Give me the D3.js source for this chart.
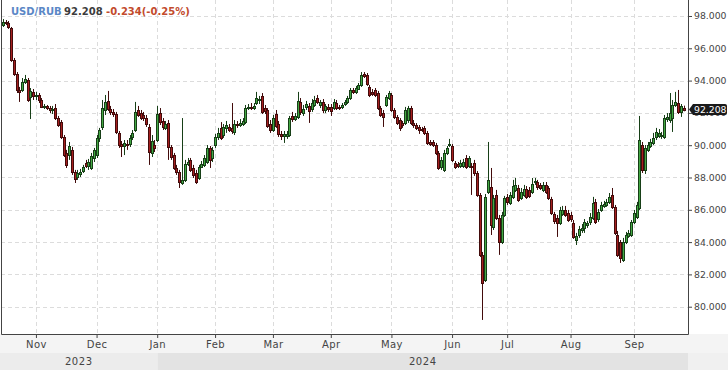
<!DOCTYPE html>
<html>
<head>
<meta charset="utf-8">
<script src="https://cdn.jsdelivr.net/npm/d3@7"></script>
<style>
  body { margin: 0; background: #fff; }
  text { font-family: "DejaVu Sans", Verdana, sans-serif; }
</style>
</head>
<body>
<script>
// USD/RUB daily candles, mid Oct 2023 to late Sep 2024
const pair = "USD/RUB";
const lastPrice = 92.208;
const change = -0.234;
const changePct = -0.25;

const months = ["Oct", "Nov", "Dec", "Jan", "Feb", "Mar", "Apr", "May", "Jun", "Jul", "Aug", "Sep"];
const monthCounts = [12, 22, 22, 21, 21, 21, 22, 22, 20, 23, 23, 19];
const years = ["2023", "2024"];
const yearFirstMonth = [0, 3];
const yTicks = [80, 82, 84, 86, 88, 90, 92, 94, 96, 98];

const opens = [
  97.44, 97.63, 97.57, 97.26, 95.28, 94.41, 93.42, 93.42, 93.91, 94.04, 92.98, 93.30,
  93.05, 93.11, 92.80, 92.37, 92.43, 92.30, 92.18, 92.30, 91.68, 91.43, 90.50, 89.52, 89.39, 89.71, 88.34, 88.03, 88.22, 88.40, 88.90, 88.71, 88.59, 89.21,
  89.39, 90.45, 91.13, 92.18, 92.74, 92.24, 92.06, 91.93, 90.76, 90.07, 89.95, 90.07, 90.07, 90.50, 90.94, 92.18, 91.99, 91.87, 91.68, 91.13, 89.52, 90.01,
  90.32, 91.99, 91.50, 91.07, 91.37, 89.89, 89.39, 88.59, 88.34, 87.66, 87.85, 88.84, 89.09, 88.59, 88.28, 87.97, 88.65, 88.78, 88.96, 89.83, 89.21,
  90.01, 90.50, 91.07, 90.63, 91.07, 91.13, 91.07, 90.82, 91.31, 91.25, 91.31, 91.43, 92.30, 92.37, 92.30, 92.61, 92.80, 93.05, 92.30, 92.18, 91.31,
  90.94, 91.93, 91.31, 90.70, 90.57, 90.57, 90.63, 91.81, 91.62, 91.75, 92.68, 91.99, 92.37, 92.43, 92.24, 92.49, 92.92, 92.49, 92.68, 92.18, 92.37,
  92.37, 92.30, 92.61, 92.37, 92.37, 92.55, 92.68, 92.92, 93.42, 93.30, 93.48, 93.73, 94.41, 94.35, 93.61, 93.30, 93.42, 93.23, 92.30, 91.99, 92.49, 92.92,
  93.11, 92.18, 91.75, 91.56, 91.37, 91.37, 91.56, 92.30, 91.37, 91.25, 91.13, 91.00, 91.07, 90.76, 90.20, 90.20, 90.01, 89.52, 88.65, 88.47, 89.52, 90.01,
  89.95, 88.90, 88.84, 88.71, 88.71, 89.21, 88.71, 88.71, 88.90, 88.28, 86.92, 83.21, 81.66, 87.10, 87.41, 84.94, 86.92, 85.49, 84.01, 85.68,
  86.80, 86.42, 86.80, 87.23, 87.35, 86.73, 86.92, 87.29, 87.23, 87.10, 87.72, 87.72, 87.54, 87.23, 87.54, 87.35, 86.67, 85.74, 85.49, 85.18, 85.74, 85.99, 85.80,
  85.68, 85.18, 84.13, 84.44, 84.75, 84.88, 85.06, 85.25, 85.49, 86.49, 85.43, 85.99, 86.24, 86.30, 86.49, 86.92, 86.18, 84.44, 84.01, 82.90, 84.01, 84.38, 84.44,
  85.25, 85.56, 86.11, 90.01, 88.47, 89.71, 89.95, 90.14, 90.51, 90.57, 90.57, 90.51, 91.62, 91.56, 91.68, 92.49, 92.61, 92.06, 92.32
];
const highs = [
  97.81, 97.75, 97.69, 97.32, 95.40, 94.53, 93.61, 94.16, 94.35, 94.16, 93.54, 93.48,
  93.30, 93.23, 92.92, 92.55, 92.49, 92.43, 92.43, 92.55, 91.81, 91.56, 90.63, 89.71, 90.20, 89.89, 88.47, 88.47, 88.53, 88.78, 89.09, 89.15, 89.52, 89.83,
  90.63, 91.07, 92.80, 93.11, 93.36, 92.43, 92.24, 92.06, 90.88, 90.26, 90.32, 90.32, 90.63, 90.94, 92.68, 92.43, 92.18, 92.06, 91.87, 91.31, 90.63, 90.32,
  92.43, 92.30, 91.68, 91.50, 91.56, 90.01, 89.52, 88.78, 88.47, 91.68, 89.09, 89.21, 89.21, 88.78, 88.47, 88.78, 89.02, 89.39, 90.01, 89.95, 89.89,
  90.70, 91.07, 91.43, 91.31, 91.50, 91.31, 92.61, 91.56, 91.50, 91.62, 91.68, 92.49, 92.55, 92.61, 92.61, 93.30, 93.05, 93.23, 92.49, 92.30, 91.56,
  91.87, 92.18, 91.50, 90.88, 90.88, 90.88, 91.81, 92.06, 91.99, 93.30, 92.92, 92.49, 92.74, 92.61, 92.86, 93.05, 93.11, 92.80, 92.86, 92.55, 92.55,
  92.55, 92.86, 92.80, 92.49, 92.61, 92.80, 93.05, 93.54, 93.54, 93.67, 93.85, 94.53, 94.53, 94.47, 93.73, 93.48, 93.54, 93.36, 92.43, 92.18, 93.11, 93.36,
  93.23, 92.30, 91.87, 91.68, 91.50, 92.37, 92.43, 92.43, 91.56, 91.37, 91.25, 91.13, 91.19, 90.88, 90.32, 90.32, 90.14, 89.64, 89.27, 89.71, 89.95, 90.39,
  90.07, 89.02, 88.96, 89.09, 89.15, 89.39, 89.33, 88.90, 89.09, 88.40, 87.04, 83.39, 86.98, 90.20, 88.59, 86.92, 87.23, 85.68, 85.87, 86.86,
  86.98, 87.10, 87.85, 87.97, 87.54, 87.35, 87.54, 87.47, 87.41, 87.97, 87.97, 87.85, 87.66, 87.72, 87.72, 87.47, 86.80, 85.87, 85.68, 86.18, 86.24, 86.24, 85.99,
  85.87, 85.37, 84.57, 85.00, 85.12, 85.43, 85.31, 85.80, 86.80, 86.67, 86.05, 86.49, 86.55, 86.67, 87.04, 87.35, 86.30, 84.69, 84.13, 84.26, 84.63, 84.75, 85.37,
  85.99, 86.49, 91.81, 90.20, 90.01, 90.20, 90.39, 90.76, 91.07, 91.00, 90.82, 91.87, 91.99, 93.23, 92.80, 93.30, 93.42, 92.55, 92.45
];
const lows = [
  97.32, 97.44, 97.20, 95.16, 94.29, 93.23, 92.68, 93.30, 93.79, 92.68, 91.62, 92.80,
  92.80, 92.61, 92.30, 92.24, 92.18, 91.99, 91.93, 91.56, 91.13, 90.38, 89.27, 88.59, 89.09, 88.16, 87.66, 87.85, 88.03, 88.28, 88.59, 88.47, 88.47, 88.96,
  89.21, 90.20, 90.94, 91.87, 92.12, 91.87, 91.75, 90.69, 89.83, 89.27, 89.39, 89.71, 89.89, 90.32, 90.82, 91.75, 91.56, 91.50, 91.13, 88.78, 89.27, 89.58,
  90.20, 91.25, 90.94, 90.94, 89.09, 89.09, 88.47, 88.16, 87.35, 87.54, 87.72, 88.71, 88.34, 87.97, 87.60, 87.85, 88.59, 88.65, 88.84, 88.59, 88.96,
  89.83, 90.32, 90.32, 90.45, 90.76, 90.82, 90.70, 90.63, 91.07, 91.13, 91.19, 91.31, 92.18, 92.18, 92.18, 92.49, 92.55, 91.93, 91.93, 91.07, 90.76,
  90.82, 91.07, 90.51, 90.32, 90.14, 90.39, 90.51, 91.44, 91.50, 91.62, 91.87, 91.81, 92.18, 91.38, 92.06, 92.37, 92.55, 92.30, 91.99, 91.99, 92.06,
  91.81, 92.18, 92.18, 92.18, 92.24, 92.43, 92.55, 92.80, 93.17, 93.17, 93.42, 93.61, 94.16, 93.67, 92.98, 93.05, 92.98, 92.18, 91.75, 91.13, 92.37, 92.80,
  92.06, 91.62, 91.25, 90.88, 91.07, 91.25, 91.38, 91.25, 91.07, 90.94, 90.70, 90.82, 90.63, 90.01, 89.95, 89.89, 89.39, 88.47, 88.47, 88.34, 89.39, 89.89,
  88.96, 88.53, 88.59, 88.59, 88.59, 88.53, 88.59, 86.92, 88.10, 86.80, 83.08, 79.18, 81.53, 86.98, 84.44, 84.75, 85.37, 83.21, 83.88, 85.56,
  86.30, 86.30, 86.67, 87.10, 86.49, 86.61, 86.80, 86.67, 86.73, 86.98, 87.54, 87.23, 87.23, 87.10, 86.98, 86.61, 85.68, 85.12, 84.32, 85.06, 85.62, 85.56, 85.25,
  85.25, 84.20, 83.82, 84.26, 84.57, 84.57, 84.88, 85.06, 85.37, 85.12, 85.25, 85.87, 86.12, 86.18, 86.36, 86.05, 84.44, 83.08, 82.71, 82.77, 83.88, 84.26, 84.32,
  85.12, 85.43, 85.99, 88.28, 88.22, 89.58, 89.83, 90.01, 90.32, 90.45, 90.39, 90.39, 91.44, 91.38, 90.82, 92.37, 91.93, 91.75, 92.10
];
const closes = [
  97.63, 97.57, 97.32, 95.28, 94.41, 93.42, 93.30, 93.91, 94.10, 92.80, 93.36, 93.05,
  93.11, 92.80, 92.37, 92.43, 92.30, 92.18, 92.24, 91.68, 91.25, 90.50, 89.39, 88.78, 89.95, 88.34, 87.91, 88.28, 88.34, 88.65, 88.71, 88.96, 89.33, 89.71,
  90.45, 90.94, 92.30, 92.68, 92.24, 92.06, 91.93, 90.82, 90.01, 89.95, 90.14, 90.01, 90.45, 90.76, 92.06, 91.87, 91.68, 91.68, 91.31, 89.58, 90.26, 89.83,
  91.93, 91.43, 91.13, 91.31, 89.89, 89.27, 88.59, 88.34, 87.72, 87.85, 88.84, 88.96, 88.47, 88.16, 87.72, 88.65, 88.84, 89.21, 89.83, 89.09, 89.71,
  90.50, 90.76, 90.45, 91.13, 91.25, 90.94, 90.88, 91.31, 91.25, 91.37, 91.50, 92.30, 92.37, 92.30, 92.43, 92.92, 92.86, 92.06, 92.12, 91.19, 90.94,
  91.68, 91.19, 90.70, 90.57, 90.70, 90.70, 91.68, 91.62, 91.81, 92.74, 92.06, 92.24, 92.55, 92.12, 92.61, 92.80, 92.68, 92.68, 92.18, 92.43, 92.24,
  92.12, 92.68, 92.30, 92.30, 92.49, 92.68, 92.92, 93.42, 93.30, 93.54, 93.73, 94.35, 94.29, 93.79, 93.11, 93.17, 93.11, 92.30, 91.87, 91.75, 92.98, 93.23,
  92.18, 91.75, 91.37, 91.07, 91.25, 92.18, 92.30, 91.37, 91.25, 91.07, 90.94, 90.94, 90.76, 90.14, 90.07, 90.01, 89.52, 88.59, 89.09, 89.52, 89.83, 90.07,
  89.09, 88.65, 88.71, 88.90, 88.96, 88.65, 89.21, 88.65, 88.28, 86.92, 83.21, 81.47, 86.80, 87.85, 85.06, 86.73, 85.49, 84.01, 85.68, 86.73,
  86.49, 86.92, 87.47, 87.54, 86.61, 87.10, 87.29, 86.80, 86.86, 87.60, 87.78, 87.41, 87.35, 87.54, 87.10, 86.73, 85.80, 85.31, 85.18, 85.99, 85.99, 85.68, 85.37,
  85.43, 84.32, 84.38, 84.81, 84.88, 85.25, 85.18, 85.56, 86.42, 85.25, 85.87, 86.30, 86.36, 86.49, 86.80, 86.18, 84.57, 83.21, 83.02, 84.01, 84.44, 84.57, 85.25,
  85.80, 86.30, 90.32, 88.47, 89.83, 90.01, 90.20, 90.45, 90.82, 90.76, 90.63, 91.68, 91.75, 91.99, 92.49, 92.68, 92.06, 92.442, 92.208
];

// Standard SVG setup
const w = 728;
const h = 370;
const plotRight = 688;
const plotBottom = 334;
const yearRowTop = 353;

const svg = d3.select("body")
  .append("svg")
  .attr("width", w)
  .attr("height", h)
  .style("display", "block");

// candle table + first candle index of every month
const candles = opens.map((o, i) => ({ i, o, h: highs[i], l: lows[i], c: closes[i] }));
const monthStarts = d3.cumsum([0, ...monthCounts.slice(0, -1)]);

const x = d3.scaleBand()
  .domain(d3.range(candles.length))
  .range([2, 685.4]);
const y = d3.scaleLinear()
  .domain([78.31, 98.99])
  .range([plotBottom, 0]);
const cx = (i) => x(i) + x.bandwidth() / 2;

// bottom background rows
svg.append("rect")
  .attr("x", 0).attr("y", plotBottom)
  .attr("width", w).attr("height", h - plotBottom)
  .attr("fill", "#f4f4f4");
svg.append("rect")
  .attr("x", 0).attr("y", yearRowTop)
  .attr("width", w).attr("height", h - yearRowTop)
  .attr("fill", "#f0f0f0");

const yearEdges = yearFirstMonth.map((m, k) => {
  const x0 = k === 0 ? 0 : cx(monthStarts[m]);
  const x1 = k === yearFirstMonth.length - 1 ? plotRight : cx(monthStarts[yearFirstMonth[k + 1]]);
  return { label: years[k], x0, x1 };
});
svg.append("g")
  .selectAll("rect")
  .data(yearEdges)
  .join("rect")
  .attr("x", (d) => d.x0)
  .attr("y", yearRowTop)
  .attr("width", (d) => d.x1 - d.x0)
  .attr("height", h - yearRowTop)
  .attr("fill", (d, k) => (k === 0 ? "#ececec" : "#e3e3e3"));
svg.append("g")
  .selectAll("text")
  .data(yearEdges)
  .join("text")
  .attr("x", (d) => (d.x0 + d.x1) / 2)
  .attr("y", 365)
  .attr("text-anchor", "middle")
  .attr("font-size", 10)
  .attr("letter-spacing", 0.6)
  .attr("fill", "#444")
  .text((d) => d.label);

// grid
const grid = svg.append("g")
  .attr("stroke", "#dcdcdc")
  .attr("stroke-dasharray", "4,3");
grid.selectAll("line.h")
  .data(yTicks)
  .join("line")
  .attr("class", "h")
  .attr("x1", 1).attr("x2", plotRight)
  .attr("y1", (d) => Math.round(y(d)) + 0.5)
  .attr("y2", (d) => Math.round(y(d)) + 0.5);
grid.selectAll("line.v")
  .data(monthStarts.slice(1))
  .join("line")
  .attr("class", "v")
  .attr("x1", (d) => Math.floor(cx(d)) + 0.5)
  .attr("x2", (d) => Math.floor(cx(d)) + 0.5)
  .attr("y1", 0).attr("y2", plotBottom);

// candles
const up = { fill: "#43a843", stroke: "#173f17" };
const down = { fill: "#a51f1f", stroke: "#420b0b" };
const g = svg.append("g");
g.selectAll("line")
  .data(candles)
  .join("line")
  .attr("x1", (d) => Math.floor(cx(d.i)) + 0.5)
  .attr("x2", (d) => Math.floor(cx(d.i)) + 0.5)
  .attr("y1", (d) => y(d.h))
  .attr("y2", (d) => y(d.l))
  .attr("stroke", (d) => (d.c >= d.o ? up.stroke : down.stroke))
  .attr("stroke-width", 1);
g.selectAll("rect")
  .data(candles)
  .join("rect")
  .attr("x", (d) => Math.floor(cx(d.i)) - 0.5)
  .attr("width", 2)
  .attr("y", (d) => Math.round(y(Math.max(d.o, d.c))) + 0.5)
  .attr("height", (d) => Math.max(1, Math.round(y(Math.min(d.o, d.c))) - Math.round(y(Math.max(d.o, d.c)))))
  .attr("fill", (d) => (d.c >= d.o ? up.fill : down.fill))
  .attr("stroke", (d) => (d.c >= d.o ? up.stroke : down.stroke))
  .attr("stroke-width", 1);

// axes
const yAxis = svg.append("g")
  .attr("transform", `translate(${plotRight},0)`)
  .call(d3.axisRight(y).tickValues(yTicks).tickSize(4).tickPadding(2).tickFormat(d3.format(".3f")));
const xAxis = svg.append("g")
  .attr("transform", `translate(0,${plotBottom})`)
  .call(d3.axisBottom(x).tickValues(monthStarts.slice(1)).tickSize(4).tickPadding(3)
    .tickFormat((d) => months[monthStarts.indexOf(d)]));
[yAxis, xAxis].forEach((a) => {
  a.select("path.domain").remove();
  a.selectAll("line").attr("stroke", "#444");
  a.selectAll("text")
    .attr("fill", "#444")
    .attr("font-size", 10)
    .attr("font-family", "DejaVu Sans, sans-serif");
});
yAxis.selectAll("text").attr("font-size", 9.3);
xAxis.selectAll("text")
  .attr("font-family", "'DejaVu Sans Condensed', 'DejaVu Sans', sans-serif")
  .attr("letter-spacing", 0.4);

// frame
svg.append("path")
  .attr("d", `M1.5,0V${plotBottom + 0.5}H${plotRight + 0.5}V0`)
  .attr("fill", "none")
  .attr("stroke", "#444");

// last price tag
const ty = y(lastPrice);
svg.append("path")
  .attr("d", `M689,${ty} L693,${ty - 5.5} H725 Q727,${ty - 5.5} 727,${ty - 3.5} V${ty + 3.5} Q727,${ty + 5.5} 725,${ty + 5.5} H693 Z`)
  .attr("fill", "#1a1a1a");
svg.append("text")
  .attr("x", 694)
  .attr("y", ty + 3.4)
  .attr("font-size", 9.3)
  .attr("fill", "#fff")
  .text(lastPrice.toFixed(3));

// header
const head = svg.append("g")
  .attr("font-size", 10)
  .attr("font-weight", "bold");
head.append("text").attr("x", 11).attr("y", 15).attr("fill", "#5b87c6").text(pair);
head.append("text").attr("x", 64).attr("y", 15).attr("fill", "#3c3c3c").text(lastPrice.toFixed(3));
head.append("text").attr("x", 106).attr("y", 15).attr("fill", "#c24a2c")
  .text(`${change.toFixed(3)}(${changePct.toFixed(2)}%)`);
</script>
</body>
</html>
